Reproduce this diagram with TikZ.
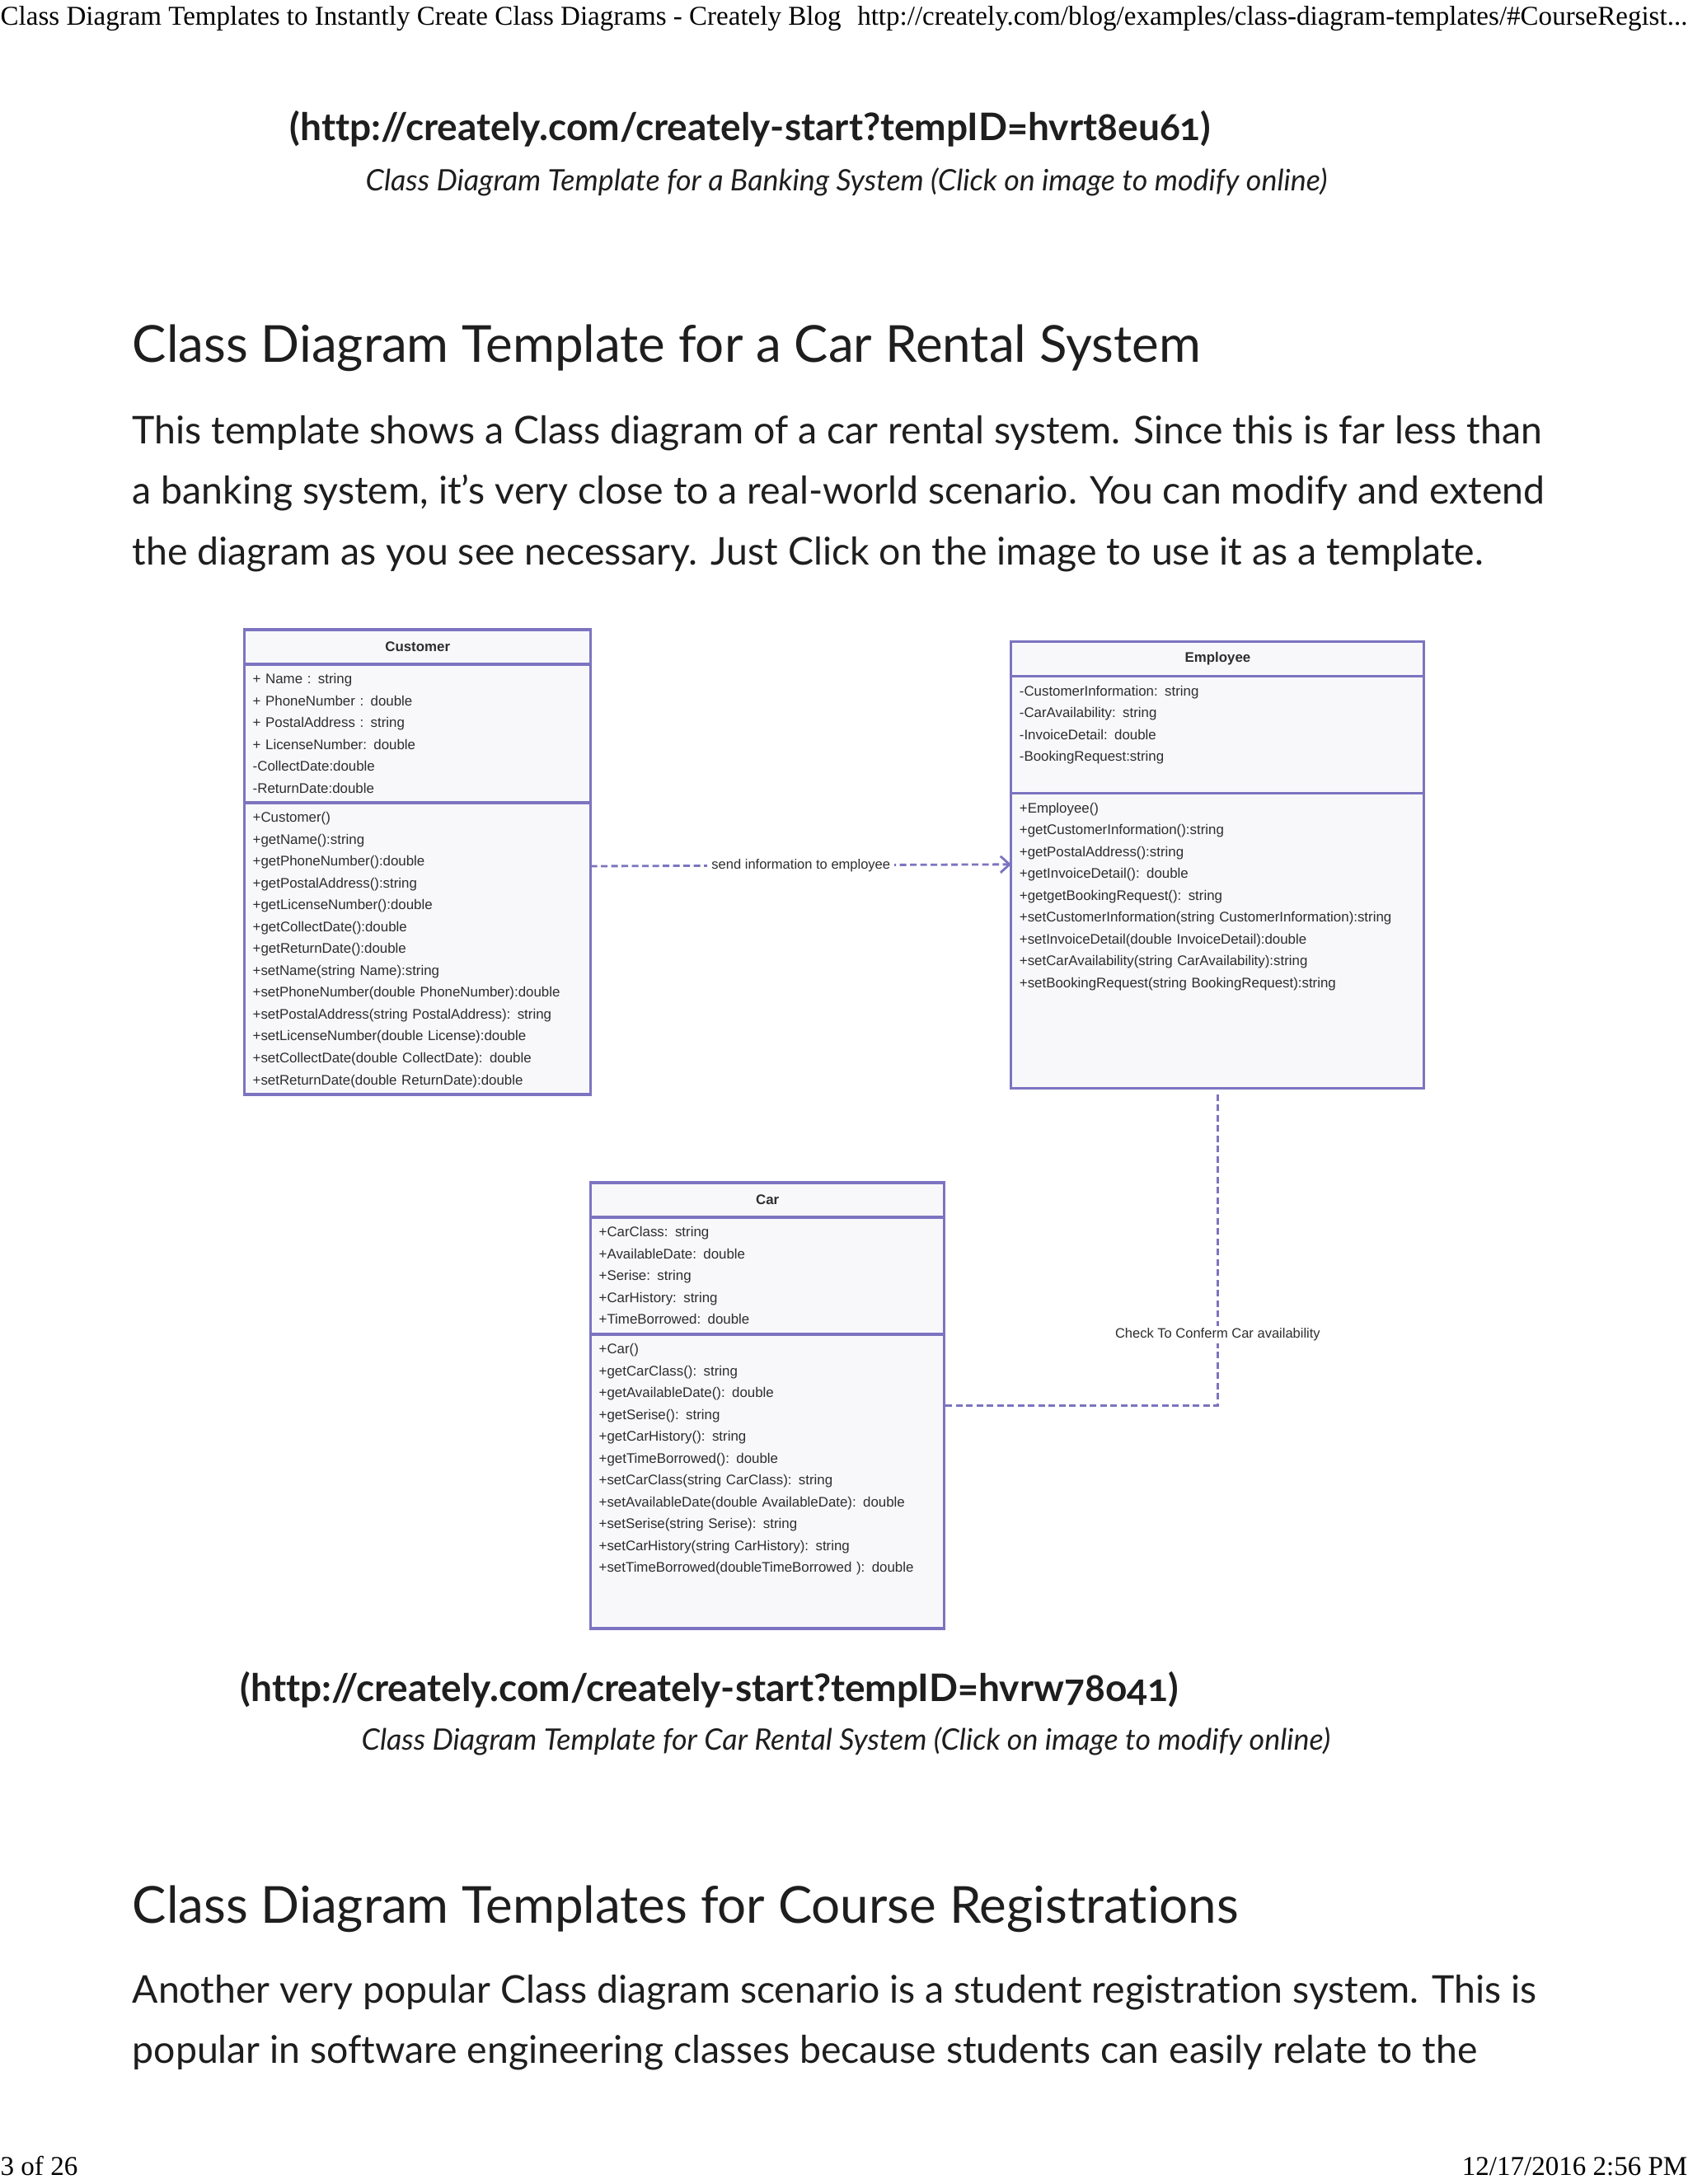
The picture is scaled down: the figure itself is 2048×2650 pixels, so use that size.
\documentclass[tikz,border=0pt]{standalone}
\usepackage{fontspec}
\setmainfont{Liberation Serif}
\newfontfamily\umlfont{Liberation Sans}
\newfontfamily\webfont{Lato}[Numbers=OldStyle,Ligatures=NoCommon]
\usepackage{tikz}
\usetikzlibrary{positioning,arrows.meta}
\definecolor{uline}{HTML}{7C74C0}
\definecolor{ufill}{HTML}{F8F8FB}
\definecolor{utext}{HTML}{2E2E2E}
\definecolor{ptext}{HTML}{1E1E1E}
\tikzset{
  clsbox/.style={draw=uline,line width=.9pt,fill=ufill,outer sep=0pt,inner xsep=1mm,inner ysep=0pt,
                 text=utext,align=left},
  clsname/.style={clsbox,align=center,minimum height=4.2mm,font=\umlfont\bfseries\fontsize{4.8}{5.8}\selectfont},
  clspart/.style={clsbox,text height=2.36mm,font=\umlfont\fontsize{4.8}{7.55}\selectfont},
  dep/.style={draw=uline,line width=.8pt,dash pattern=on .8mm off .45mm},
  deplbl/.style={fill=white,inner xsep=.5mm,inner ysep=.3mm,text=utext,font=\umlfont\fontsize{4.7}{5.6}\selectfont},
  hdr/.style={inner sep=0pt,text=black,font=\fontsize{9.4}{11}\selectfont},
  heading/.style={inner sep=0pt,text=ptext,font=\webfont\fontsize{17.6}{21}\selectfont},
  body/.style={inner sep=0pt,text=ptext,font=\webfont\fontsize{13.2}{16}\selectfont},
  link/.style={inner sep=0pt,text=ptext,font=\webfont\bfseries\fontsize{13.1}{16}\selectfont},
  capt/.style={inner sep=0pt,text=ptext,font=\webfont\itshape\fontsize{10.2}{12}\selectfont}
}
\begin{document}
\begin{tikzpicture}[x=0.1mm,y=-0.1mm,node distance=0mm]
\fill[white] (0,0) rectangle (2048,2650);
\useasboundingbox (0,0) rectangle (2048,2650);

% page text above the diagram
\node[hdr,anchor=base west] (hdrl) at (0,30) {Class Diagram Templates to Instantly Create Class Diagrams - Creately Blog};
\node[hdr,anchor=base east] (hdrr) at (2048,30) {http://creately.com/blog/examples/class-diagram-templates/\#CourseRegist...};
\node[link,anchor=base west] (url1) at (351,170) {(http://creately.com/creately-start?tempID=hvrt8eu61)};
\node[capt,anchor=base west] (cap1) at (443,231) {Class Diagram Template for a Banking System (Click on image to modify online)};
\node[heading,anchor=base west] (head1) at (160,439) {Class Diagram Template for a Car Rental System};
\node[body,anchor=base west] (par1a) at (160,538) {This template shows a Class diagram of a car rental system. Since this is far less than};
\node[body,anchor=base west] (par1b) at (160,611) {a banking system, it’s very close to a real-world scenario. You can modify and extend};
\node[body,anchor=base west] (par1c) at (160,685) {the diagram as you see necessary. Just Click on the image to use it as a template.};

% Customer
\node[clsname,text width=40mm,anchor=north west] (custn) at (296.7,764) {Customer};
\node[clspart,text width=40mm,text depth=14.44mm,below=of custn] (custa) {%
  + Name : string\\
  + PhoneNumber : double\\
  + PostalAddress : string\\
  + LicenseNumber: double\\
  -CollectDate:double\\
  -ReturnDate:double};
\node[clspart,text width=40mm,text depth=33.04mm,below=of custa] (custm) {%
  +Customer()\\
  +getName():string\\
  +getPhoneNumber():double\\
  +getPostalAddress():string\\
  +getLicenseNumber():double\\
  +getCollectDate():double\\
  +getReturnDate():double\\
  +setName(string Name):string\\
  +setPhoneNumber(double PhoneNumber):double\\
  +setPostalAddress(string PostalAddress): string\\
  +setLicenseNumber(double License):double\\
  +setCollectDate(double CollectDate): double\\
  +setReturnDate(double ReturnDate):double};

% Employee
\node[clsname,text width=48.1mm,anchor=north west] (empn) at (1226.9,778.5) {Employee};
\node[clspart,text width=48.1mm,text depth=11.84mm,below=of empn] (empa) {%
  -CustomerInformation: string\\
  -CarAvailability: string\\
  -InvoiceDetail: double\\
  -BookingRequest:string};
\node[clspart,text width=48.1mm,text depth=33.44mm,below=of empa] (empm) {%
  +Employee()\\
  +getCustomerInformation():string\\
  +getPostalAddress():string\\
  +getInvoiceDetail(): double\\
  +getgetBookingRequest(): string\\
  +setCustomerInformation(string CustomerInformation):string\\
  +setInvoiceDetail(double InvoiceDetail):double\\
  +setCarAvailability(string CarAvailability):string\\
  +setBookingRequest(string BookingRequest):string};

% Car
\node[clsname,text width=40.9mm,anchor=north west] (carn) at (716.7,1435) {Car};
\node[clspart,text width=40.9mm,text depth=11.84mm,below=of carn] (cara) {%
  +CarClass: string\\
  +AvailableDate: double\\
  +Serise: string\\
  +CarHistory: string\\
  +TimeBorrowed: double};
\node[clspart,text width=40.9mm,text depth=33.34mm,below=of cara] (carm) {%
  +Car()\\
  +getCarClass(): string\\
  +getAvailableDate(): double\\
  +getSerise(): string\\
  +getCarHistory(): string\\
  +getTimeBorrowed(): double\\
  +setCarClass(string CarClass): string\\
  +setAvailableDate(double AvailableDate): double\\
  +setSerise(string Serise): string\\
  +setCarHistory(string CarHistory): string\\
  +setTimeBorrowed(doubleTimeBorrowed ): double};

\draw[dep,-{Straight Barb[length=1.1mm,width=2mm]}] ([yshift=10mm]custm.east) --
  node[deplbl]{send information to employee} ([yshift=9.27mm]empm.west);
\draw[dep] ([yshift=-.7mm]empm.south) |-
  node[deplbl,pos=.3865]{Check To Conferm Car availability} ([yshift=9.2mm]carm.east);

% page text below the diagram
\node[link,anchor=base west] (url2) at (291,2064) {(http://creately.com/creately-start?tempID=hvrw78o41)};
\node[capt,anchor=base west] (cap2) at (438,2123) {Class Diagram Template for Car Rental System (Click on image to modify online)};
\node[heading,anchor=base west] (head2) at (160,2333) {Class Diagram Templates for Course Registrations};
\node[body,anchor=base west] (par2a) at (160,2430) {Another very popular Class diagram scenario is a student registration system. This is};
\node[body,anchor=base west] (par2b) at (160,2503) {popular in software engineering classes because students can easily relate to the};
\node[hdr,anchor=base west] (ftl) at (0,2639) {3 of 26};
\node[hdr,anchor=base east] (ftr) at (2048,2639) {12/17/2016 2:56 PM};
\end{tikzpicture}
\end{document}
